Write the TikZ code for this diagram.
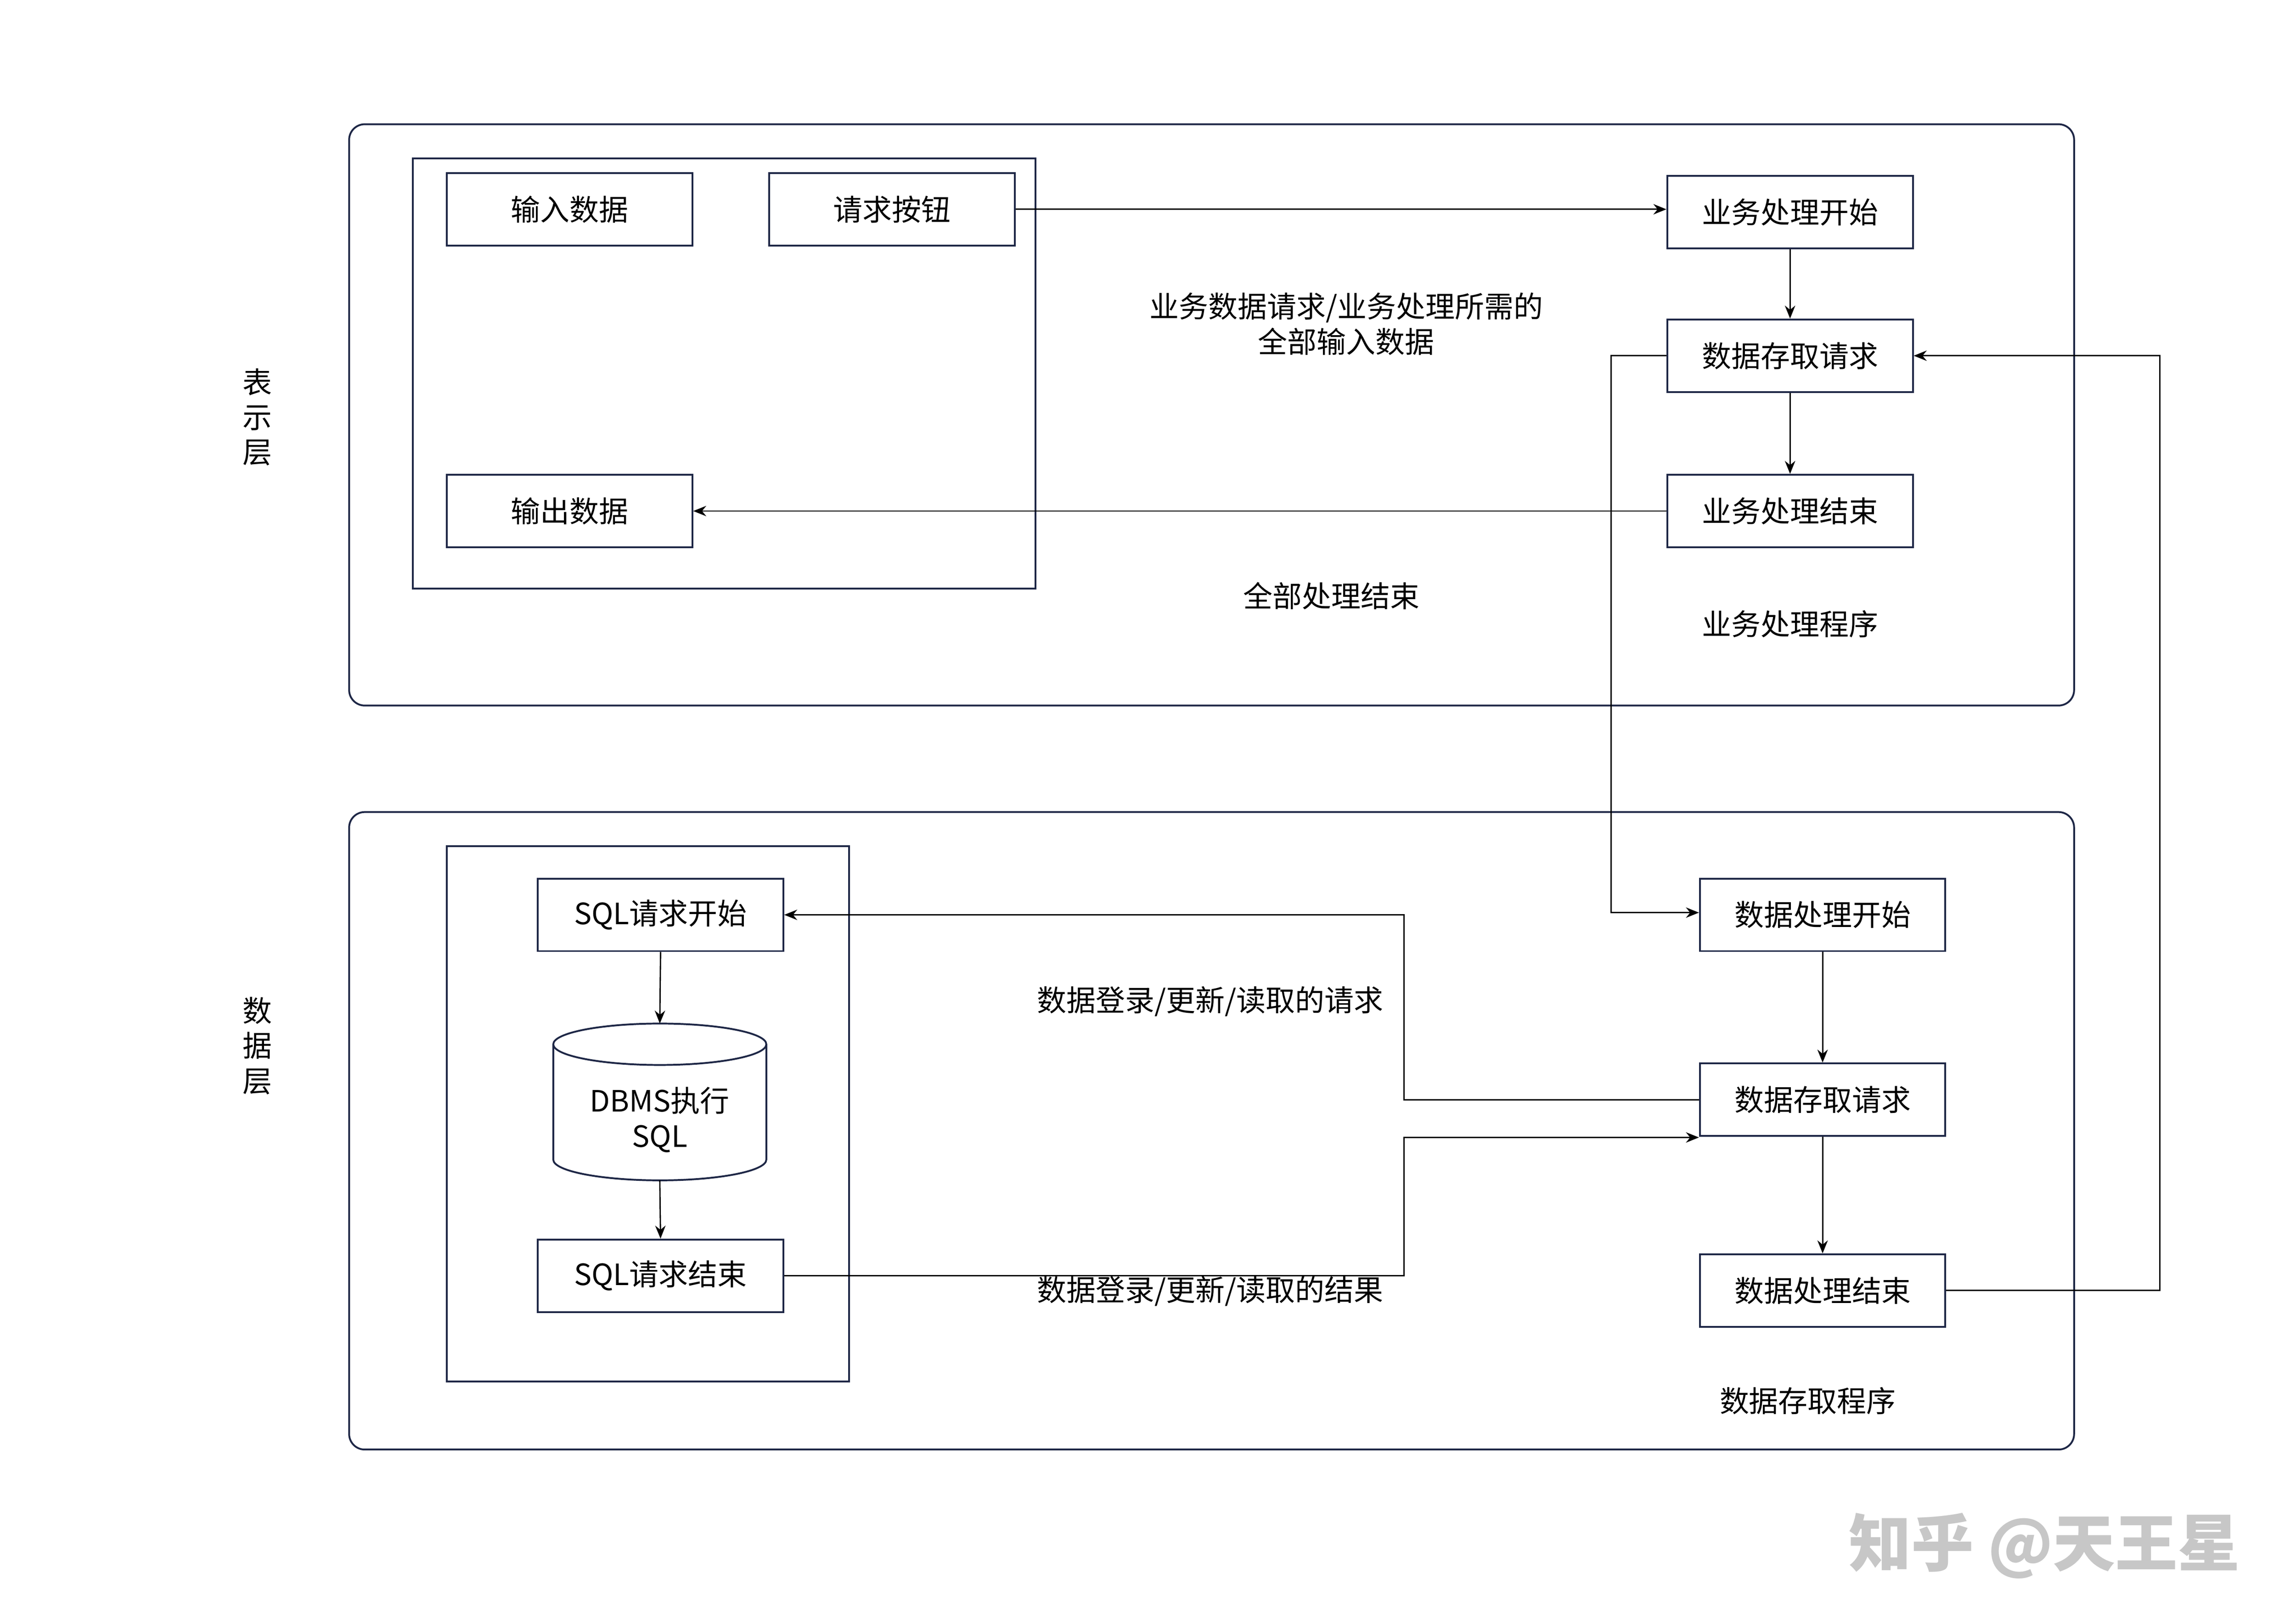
\documentclass[tikz,border=0pt]{standalone}
\usepackage{fontspec}
\setmainfont{Noto Sans CJK SC}
\usetikzlibrary{arrows.meta}
\definecolor{nv}{HTML}{1E2746}
\begin{document}
\begin{tikzpicture}[x=0.02cm,y=-0.02cm,
  every node/.style={font=\fontsize{11.3}{13.5}\selectfont},
  box/.style={draw=nv,line width=0.7pt,minimum width=3.32cm,minimum height=0.98cm,inner sep=0pt},
  frame/.style={draw=nv,line width=0.7pt},
  arr/.style={draw=black,line width=0.5pt,-{Stealth[length=5pt,width=4pt]}}]
\useasboundingbox (0,0) rectangle (1552,1097);
\fill[white] (0,0) rectangle (1552,1097);
% frames
\draw[frame,rounded corners=6pt] (236,84) rectangle (1402,477);
\draw[frame] (279,107) rectangle (700,398);
\draw[frame,rounded corners=6pt] (236,549) rectangle (1402,980);
\draw[frame] (302,572) rectangle (574,934);
% top nodes
\node[box] (in) at (385,141.5) {输入数据};
\node[box] (btn) at (603,141.5) {请求按钮};
\node[box] (out) at (385,345.5) {输出数据};
\node[box] (bs) at (1210,143.5) {业务处理开始};
\node[box] (br) at (1210,240.5) {数据存取请求};
\node[box] (be) at (1210,345.5) {业务处理结束};
% bottom nodes
\node[box] (ss) at (446.5,618.5) {SQL请求开始};
\node[box] (se) at (446.5,862.5) {SQL请求结束};
\node[box] (ds) at (1232,618.5) {数据处理开始};
\node[box] (dr) at (1232,743.5) {数据存取请求};
\node[box] (de) at (1232,872.5) {数据处理结束};
% cylinder
\coordinate (cyt) at (446,692);
\coordinate (cyb) at (446,798);
\draw[frame,fill=white] (374,706) -- (374,784) arc[start angle=180,end angle=0,x radius=72,y radius=14] -- (518,706) arc[start angle=0,end angle=-180,x radius=72,y radius=14] -- cycle;
\draw[frame] (374,706) arc[start angle=180,end angle=0,x radius=72,y radius=14];
\node[align=center] (db) at (446,757) {DBMS执行\\SQL};
% labels
\node[align=center] (l1) at (910,219) {业务数据请求/业务处理所需的\\全部输入数据};
\node (l2) at (900,403) {全部处理结束};
\node (l3) at (1210,422) {业务处理程序};
\node (l4) at (818,677) {数据登录/更新/读取的请求};
\node (l5) at (818,873) {数据登录/更新/读取的结果};
\node (l6) at (1222,947) {数据存取程序};
\node[align=center] (t1) at (174,282) {表\\示\\层};
\node[align=center] (t2) at (174,707) {数\\据\\层};
\node[text=black!22,font=\fontsize{24}{28}\selectfont\bfseries] (wm) at (1382,1045) {知乎 @天王星};
% connectors
\draw[arr] (btn.east) -- (bs.west |- btn.east);
\draw[arr] (bs) -- (br);
\draw[arr] (br) -- (be);
\draw[arr] (be.west) -- (out.east);
\draw[arr] (br.west) -| (1089,617) -- (ds.west |- 1089,617);
\draw[arr] (de.east) -- (1460,872.5) |- (br.east);
\draw[arr] (ds) -- (dr);
\draw[arr] (dr) -- (de);
\draw[arr] (dr.west) -| (949,618.5) -- (ss.east);
\draw[arr] (se.east) -| (949,769) -- (dr.west |- 949,769);
\draw[arr] (ss.south) -- (cyt);
\draw[arr] (cyb) -- (se.north);
\end{tikzpicture}
\end{document}
